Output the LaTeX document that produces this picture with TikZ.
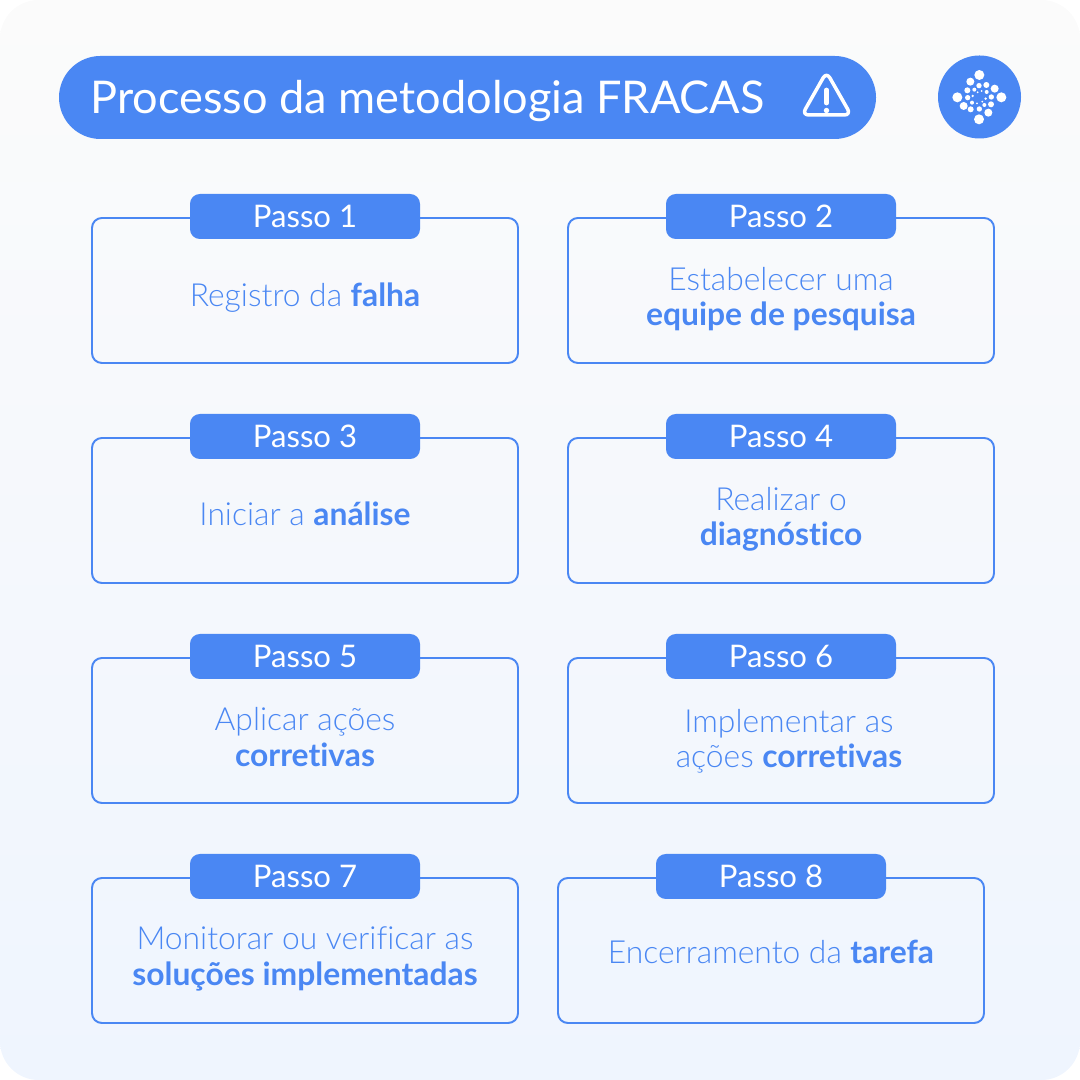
\documentclass[tikz,border=0pt]{standalone}
\usepackage{fontspec}
\setmainfont[Ligatures=NoCommon]{Lato}
\newfontfamily\bodyfont[Ligatures=NoCommon, BoldFont={Lato Bold}]{Lato Light}
\definecolor{fracasblue}{HTML}{4A87F3}
\definecolor{bgtop}{HTML}{FBFBFB}
\definecolor{bgbottom}{HTML}{EFF5FE}
\tikzset{
    stepbox/.style={draw=fracasblue, line width=0.55pt, rounded corners=2.8pt, minimum width=4.26cm, minimum height=1.45cm},
    stepbadge/.style={fill=fracasblue, text=white, rounded corners=2.8pt, inner sep=0pt, minimum width=2.3cm, minimum height=0.45cm, font=\fontsize{8.85}{9}\selectfont},
    steptext/.style={text=fracasblue, align=center, font=\bodyfont\fontsize{9.05}{10}\selectfont},
    logodot/.style={fill=white, draw=none}
}
\begin{document}
\begin{tikzpicture}
    \useasboundingbox (0,0) rectangle (10.8,10.8);
    % background
    \shade[top color=bgtop, bottom color=bgbottom, rounded corners=11pt] (0,0) rectangle (10.8,10.8);

    % title
    \node[fill=fracasblue, rounded corners=11.8pt, minimum width=8.17cm, minimum height=0.83cm] (titlebar) at (4.675, 9.825) {};
    \node[text=white, anchor=west, font=\fontsize{12.83}{14}\selectfont, inner sep=0] (titletext) at (0.90, 9.79) {Processo da metodologia FRACAS};

    % warning sign
    \draw[white, line width=1pt, line join=round, rounded corners=1.9pt] (8.265, 10.08) -- (8.02, 9.65) -- (8.51, 9.65) -- cycle;
    \draw[white, line width=1.35pt, line cap=round] (8.265, 9.9) -- (8.265, 9.77);
    \fill[white] (8.265, 9.695) circle (0.027);

    % logo
    \node[fill=fracasblue, circle, minimum size=0.83cm, inner sep=0] (logo) at (9.795, 9.83) {};
    \foreach \px/\py/\pr in {
        598/105/15, 571/125/12, 597/137/8, 619/135/9, 644/146/12, 664/172/15, 634/171/8, 633/193/9,
        625/218/12, 597/238/15, 598/207/8, 572/208/9, 551/198/12, 532/172/15, 563/173/8, 562/151/9,
        583/149/6, 620/156/6, 613/195/6, 576/188/6, 593/157/3, 605/153/3, 607/185/3, 591/190/3,
        578/168/4, 617/176/4} {
        \fill[logodot] ({(780+\px/3)/100}, {10.8-(40+\py/3)/100}) circle ({\pr/300});
    }

    % row 1
    \node[stepbox] (box1) at (3.05, 7.895) {};
    \node[stepbadge] (badge1) at (3.05, 8.635) {Passo 1};
    \node[steptext] (text1) at (3.05, 7.82) {Registro da \textbf{falha}};
    \node[stepbox] (box2) at (7.81, 7.895) {};
    \node[stepbadge] (badge2) at (7.81, 8.635) {Passo 2};
    \node[steptext] (text2) at (7.81, 7.81) {Estabelecer uma\\\textbf{equipe de pesquisa}};

    % row 2
    \node[stepbox] (box3) at (3.05, 5.695) {};
    \node[stepbadge] (badge3) at (3.05, 6.435) {Passo 3};
    \node[steptext] (text3) at (3.05, 5.66) {Iniciar a \textbf{análise}};
    \node[stepbox] (box4) at (7.81, 5.695) {};
    \node[stepbadge] (badge4) at (7.81, 6.435) {Passo 4};
    \node[steptext] (text4) at (7.81, 5.61) {Realizar o\\\textbf{diagnóstico}};

    % row 3
    \node[stepbox] (box5) at (3.05, 3.495) {};
    \node[stepbadge] (badge5) at (3.05, 4.235) {Passo 5};
    \node[steptext] (text5) at (3.05, 3.43) {Aplicar ações\\\textbf{corretivas}};
    \node[stepbox] (box6) at (7.81, 3.495) {};
    \node[stepbadge] (badge6) at (7.81, 4.235) {Passo 6};
    \node[steptext] (text6) at (7.89, 3.39) {Implementar as\\ações \textbf{corretivas}};

    % row 4
    \node[stepbox] (box7) at (3.05, 1.295) {};
    \node[stepbadge] (badge7) at (3.05, 2.035) {Passo 7};
    \node[steptext] (text7) at (3.05, 1.21) {Monitorar ou verificar as\\\textbf{soluções implementadas}};
    \node[stepbox] (box8) at (7.71, 1.295) {};
    \node[stepbadge] (badge8) at (7.71, 2.035) {Passo 8};
    \node[steptext] (text8) at (7.71, 1.28) {Encerramento da \textbf{tarefa}};
\end{tikzpicture}
\end{document}
